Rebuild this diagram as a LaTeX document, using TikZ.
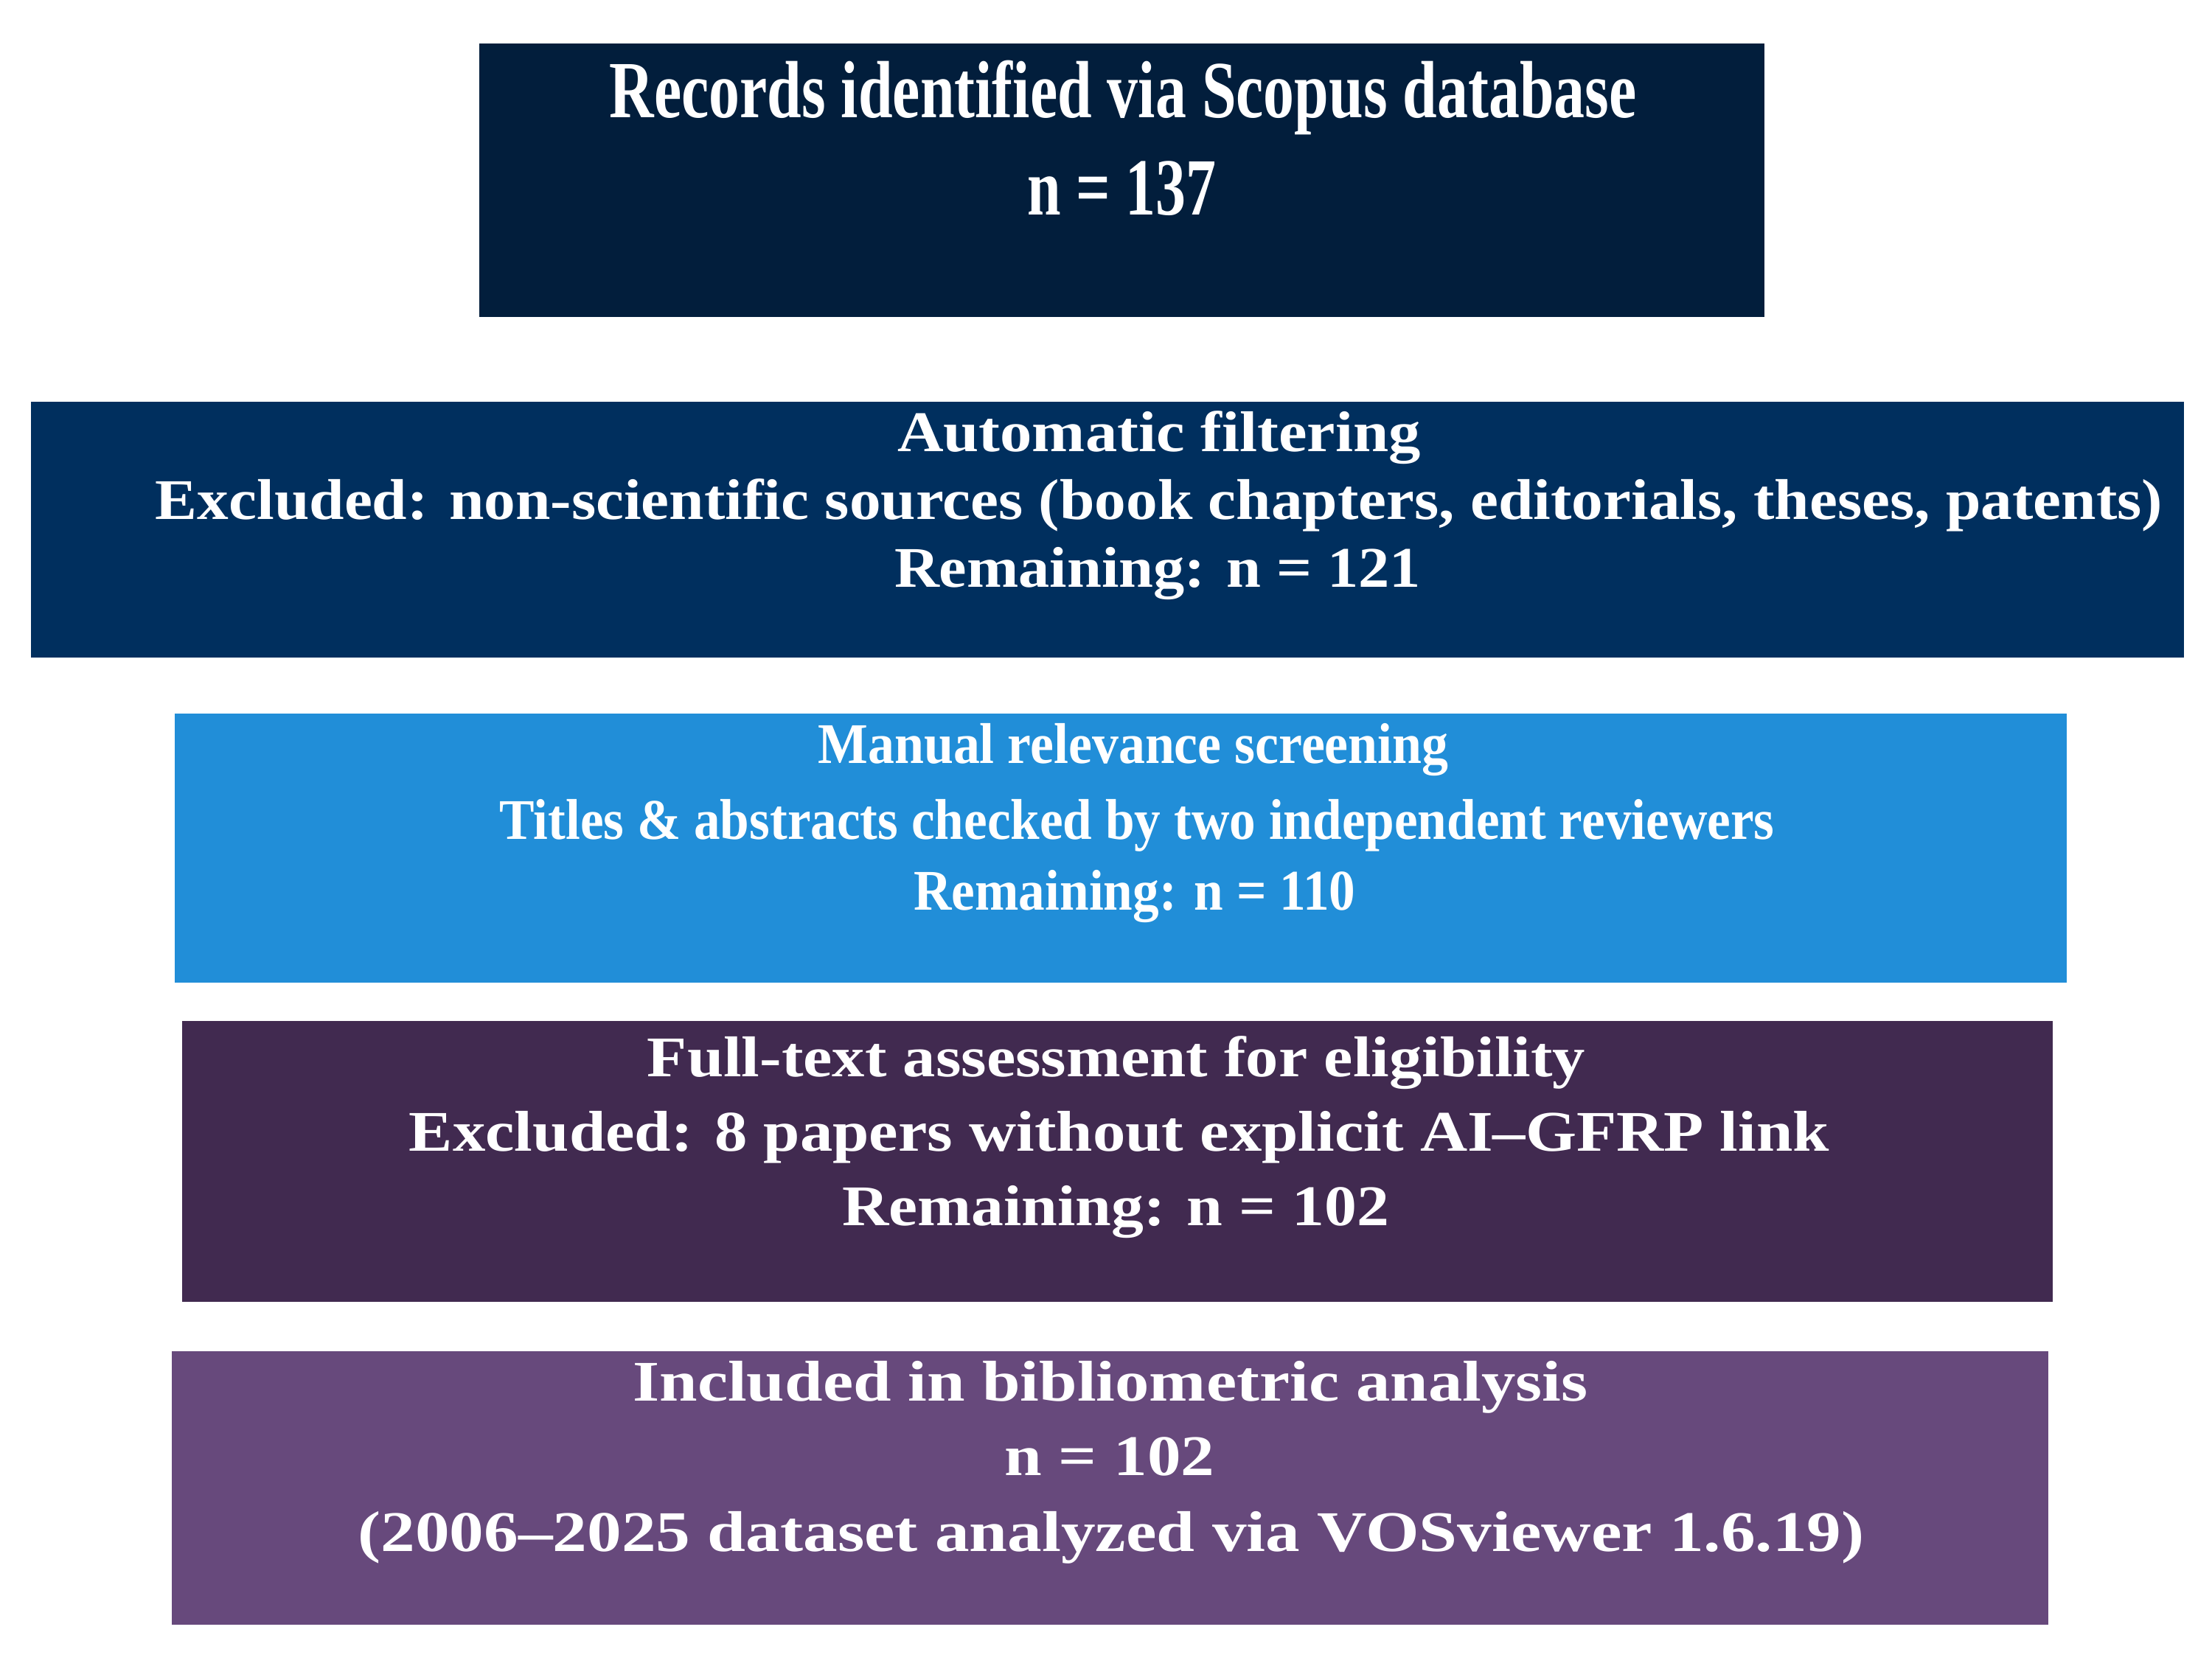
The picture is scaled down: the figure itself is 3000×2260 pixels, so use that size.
\documentclass[tikz,border=0pt]{standalone}
\usepackage{fontspec}
\usepackage{graphicx}
\setmainfont{Liberation Serif}
\usetikzlibrary{fit}
\definecolor{cA}{RGB}{2,30,60}
\definecolor{cB}{RGB}{0,47,94}
\definecolor{cC}{RGB}{33,142,216}
\definecolor{cD}{RGB}{65,42,80}
\definecolor{cE}{RGB}{103,73,124}
\newcommand{\fitw}[2]{\resizebox{#1}{\height}{#2}}
\tikzset{
  panel/.style={inner sep=0pt, draw=none},
  bigtxt/.style={text=white, inner sep=0pt, anchor=base, font=\bfseries\fontsize{27.5}{33}\selectfont},
  txt/.style={text=white, inner sep=0pt, anchor=base, font=\bfseries\fontsize{19.5}{23}\selectfont}
}
\begin{document}
\begin{tikzpicture}[x=0.25pt,y=-0.25pt]
\fill[white] (0,0) rectangle (3000,2260);
\useasboundingbox (0,0) rectangle (3000,2260);

\node[panel, fill=cA, fit={(650,59) (2393,430)}] (b1) {};
\node[panel, fill=cB, fit={(42,545) (2962,892)}] (b2) {};
\node[panel, fill=cC, fit={(237,968) (2803,1333)}] (b3) {};
\node[panel, fill=cD, fit={(247,1385) (2784,1766)}] (b4) {};
\node[panel, fill=cE, fit={(233,1833) (2778,2204)}] (b5) {};

\node[bigtxt] (t11) at (1523,159) {\fitw{348.25pt}{Records identified via Scopus database}};
\node[bigtxt] (t12) at (1521,291) {\fitw{64pt}{n = 137}};

\node[txt] (t21) at (1572,612) {\fitw{177.5pt}{Automatic filtering}};
\node[txt] (t22) at (1572,704) {\fitw{680.5pt}{Excluded: non-scientific sources (book chapters, editorials, theses, patents)}};
\node[txt] (t23) at (1570,796) {\fitw{178.5pt}{Remaining: n = 121}};

\node[txt] (t31) at (1537,1035) {\fitw{213.75pt}{Manual relevance screening}};
\node[txt] (t32) at (1542,1138) {\fitw{432.25pt}{Titles \& abstracts checked by two independent reviewers}};
\node[txt] (t33) at (1539,1234) {\fitw{149.75pt}{Remaining: n = 110}};

\node[txt] (t41) at (1514,1460) {\fitw{318pt}{Full-text assessment for eligibility}};
\node[txt] (t42) at (1518,1561) {\fitw{481.5pt}{Excluded: 8 papers without explicit AI–GFRP link}};
\node[txt] (t43) at (1513,1662) {\fitw{185.5pt}{Remaining: n = 102}};

\node[txt] (t51) at (1506,1900) {\fitw{323.75pt}{Included in bibliometric analysis}};
\node[txt] (t52) at (1505,2001) {\fitw{71.25pt}{n = 102}};
\node[txt] (t53) at (1507,2104) {\fitw{510.75pt}{(2006–2025 dataset analyzed via VOSviewer 1.6.19)}};
\end{tikzpicture}
\end{document}
